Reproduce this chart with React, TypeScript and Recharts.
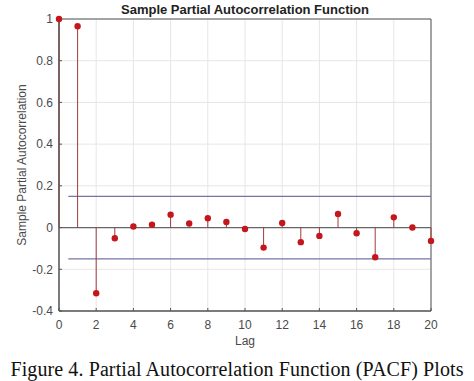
import React from "react";
import {
  ComposedChart,
  Scatter,
  XAxis,
  YAxis,
  CartesianGrid,
  ReferenceLine,
  ReferenceArea,
} from "recharts";

const lags = [0, 1, 2, 3, 4, 5, 6, 7, 8, 9, 10, 11, 12, 13, 14, 15, 16, 17, 18, 19, 20];
const pacf = [
  1, 0.965, -0.315, -0.051, 0.005, 0.014, 0.062, 0.02, 0.045, 0.027, -0.007,
  -0.096, 0.022, -0.07, -0.04, 0.065, -0.027, -0.142, 0.049, 0.0, -0.064,
];
const bound = 0.15;
const boundStart = 0.5;
const xTicks = [0, 2, 4, 6, 8, 10, 12, 14, 16, 18, 20];
const yTicks = [-0.4, -0.2, 0, 0.2, 0.4, 0.6, 0.8, 1];

const points = lags.map((lag, i) => ({ lag, value: pacf[i] }));

const axisFont = { fontFamily: "Liberation Sans, Arial, sans-serif", fontSize: 12, fill: "#4a4a4a" };

const fmtY = (v: number) => (v === 0 ? "0" : String(Math.round(v * 10) / 10));

const App: React.FC = () => {
  return (
    <div
      style={{
        position: "absolute",
        left: 0,
        top: 0,
        width: 474,
        height: 381,
        background: "#fff",
        overflow: "hidden",
      }}
    >
      <div
        style={{
          position: "absolute",
          top: 2,
          left: 59,
          width: 372,
          textAlign: "center",
          fontFamily: "Liberation Sans, Arial, sans-serif",
          fontWeight: "bold",
          fontSize: 13,
          color: "#222",
        }}
      >
        Sample Partial Autocorrelation Function
      </div>
      <ComposedChart
        width={474}
        height={352}
        margin={{ top: 19, right: 43, left: 0, bottom: 0 }}
        data={points}
      >
        <CartesianGrid stroke="#e6e6e6" strokeWidth={1} />
        <XAxis
          type="number"
          dataKey="lag"
          domain={[0, 20]}
          ticks={xTicks}
          tick={axisFont}
          tickLine={{ stroke: "#555" }}
          tickSize={-3}
          tickMargin={12}
          axisLine={{ stroke: "#555" }}
          height={41}
          label={{ value: "Lag", position: "insideBottom", offset: 7, style: { ...axisFont, fill: "#4a4a4a" } }}
        />
        <YAxis
          type="number"
          dataKey="value"
          domain={[-0.4, 1]}
          ticks={yTicks}
          tickFormatter={fmtY}
          tick={axisFont}
          tickLine={{ stroke: "#555" }}
          tickSize={-3}
          tickMargin={9}
          axisLine={{ stroke: "#555" }}
          width={59}
          label={{
            value: "Sample Partial Autocorrelation",
            angle: -90,
            position: "insideLeft",
            offset: 22,
            style: { ...axisFont, textAnchor: "middle", fill: "#4a4a4a" },
          }}
        />
        <ReferenceArea x1={0} x2={20} y1={-0.4} y2={1} fill="none" stroke="#555" strokeWidth={1} />
        <ReferenceLine y={0} stroke="#666" strokeWidth={1.2} />
        <ReferenceLine
          segment={[{ x: boundStart, y: bound }, { x: 20, y: bound }]}
          stroke="#7474a6"
          strokeWidth={1.2}
        />
        <ReferenceLine
          segment={[{ x: boundStart, y: -bound }, { x: 20, y: -bound }]}
          stroke="#7474a6"
          strokeWidth={1.2}
        />
        {points.map((p) => (
          <ReferenceLine
            key={`stem-${p.lag}`}
            segment={[{ x: p.lag, y: 0 }, { x: p.lag, y: p.value }]}
            stroke="#a33a3a"
            strokeWidth={1}
          />
        ))}
        <Scatter
          dataKey="value"
          fill="#c4161c"
          isAnimationActive={false}
          shape={(props: any) => <circle cx={props.cx} cy={props.cy} r={3.2} fill="#c4161c" />}
        />
      </ComposedChart>
      <div
        style={{
          position: "absolute",
          top: 359,
          left: 0,
          width: 474,
          textAlign: "center",
          whiteSpace: "nowrap",
          fontFamily: "Liberation Serif, Times New Roman, serif",
          fontSize: 20,
          lineHeight: "20px",
          letterSpacing: 0.1,
          color: "#111",
        }}
      >
        Figure 4. Partial Autocorrelation Function (PACF) Plots
      </div>
    </div>
  );
};

export default App;
